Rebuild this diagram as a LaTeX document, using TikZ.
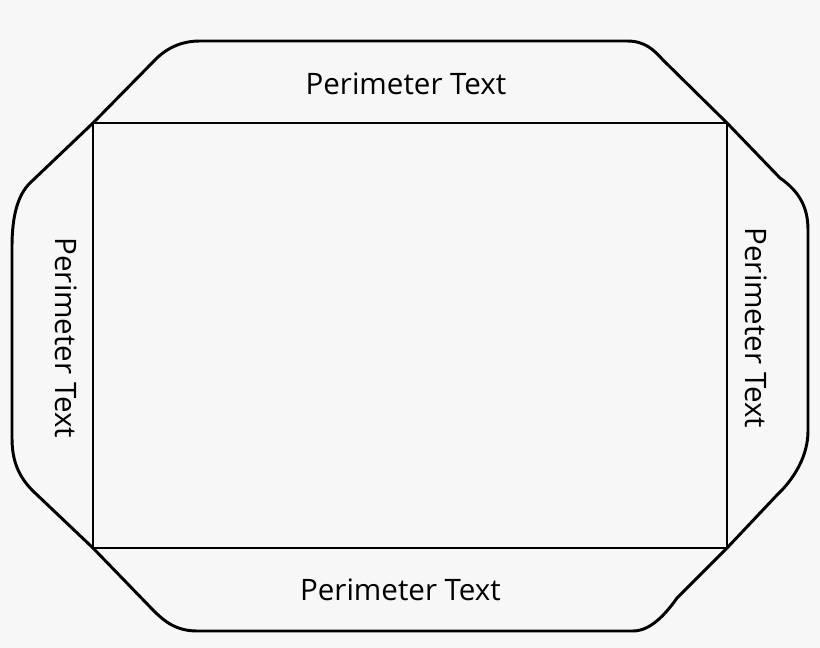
\documentclass[tikz,border=0pt]{standalone}
\usepackage{fontspec}
\setmainfont{Open Sans}
\usepackage{tikz}

\definecolor{paper}{HTML}{F7F7F7}

\begin{document}
\begin{tikzpicture}[x=0.025cm,y=-0.025cm,line width=2.1pt,line join=round]

      \fill[paper] (0,0) rectangle (820,648);

      \coordinate (tl) at (93,123);
      \coordinate (tr) at (727,123);
      \coordinate (bl) at (93,548);
      \coordinate (br) at (727,548);

      % flaps round the base
      \draw (tl) -- (153,62) .. controls (165,49) and (180,41) .. (200,41)
        -- (627,41) .. controls (645,41) and (654,50) .. (663,60) -- (tr)
        -- (780,178) .. controls (800,192) and (808,208) .. (808,230)
        -- (808,431) .. controls (808,455) and (795,478) .. (777,495) -- (br)
        -- (677,598) .. controls (665,615) and (650,631) .. (633,631)
        -- (197,631) .. controls (175,631) and (163,620) .. (153,610) -- (bl)
        -- (33,491) .. controls (18,476) and (12,460) .. (12,438)
        -- (12,247) .. controls (12,215) and (18,195) .. (30,183) -- cycle;

      % base
      \draw (tl) rectangle (br);

      \begin{scope}[every node/.style={inner sep=0pt,font=\fontsize{21}{25}\selectfont}]
        \node (ttop) at (406,84) {Perimeter Text};
        \node (tbottom) at (400.5,590) {Perimeter Text};
        \node[rotate=-90] (tleft) at (66,338) {Perimeter Text};
        \node[rotate=-90] (tright) at (756,328) {Perimeter Text};
      \end{scope}
    \end{tikzpicture}
\end{document}
